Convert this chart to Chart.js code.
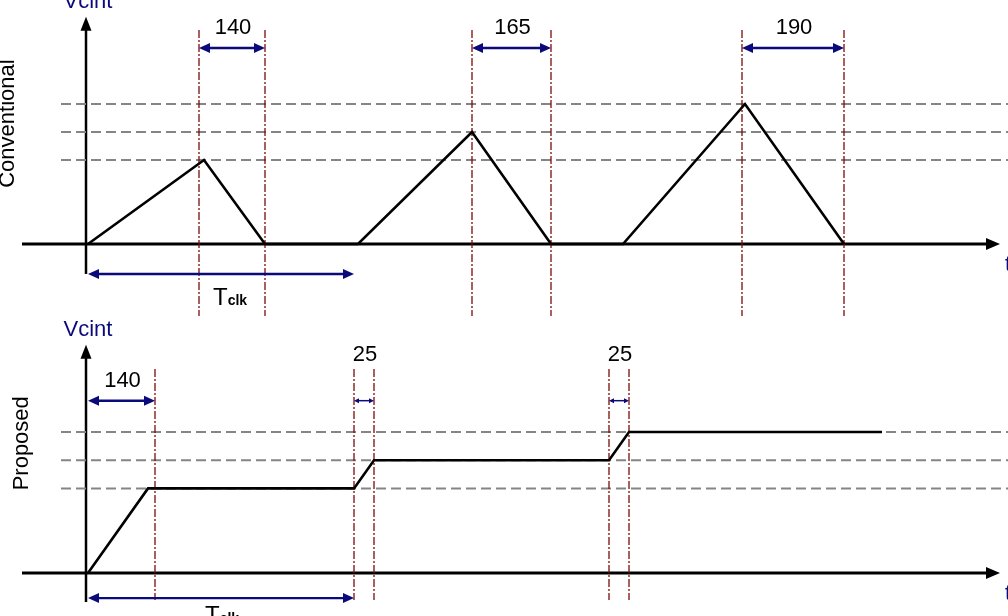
<!DOCTYPE html>
<html>
<head>
<meta charset="utf-8">
<script src="https://cdn.jsdelivr.net/npm/chart.js@4.4.0/dist/chart.umd.min.js"></script>
<style>
  html, body { margin: 0; padding: 0; background: #fff; overflow: hidden; }
  canvas { display: block; }
</style>
</head>
<body>
<canvas id="convChart" width="1008" height="316"></canvas>
<canvas id="propChart" width="1008" height="300"></canvas>
<script>
// time runs from the Vcint axis, Vcint is counted in level steps
const levels = [3, 4, 5];

const convTime  = [0, 116, 177, 270, 384, 463, 535, 657, 756];
const convVcint = [0, 3, 0, 0, 4, 0, 0, 5, 0];
const convGuides = [111, 177, 384, 463, 654, 756];
const convSpans = [[111, 177], [384, 463], [654, 756]];
const convSpanLabels = ['140', '165', '190'];

const propTime  = [0, 60, 266, 286, 521, 541, 794];
const propVcint = [0, 3, 3, 4, 4, 5, 5];
const propGuides = [67, 266, 286, 521, 541];
const propSpans = [[0, 67], [266, 286], [521, 541]];
const propSpanLabels = ['140', '25', '25'];

const clkSpan = [0, 266];

const NAVY = '#0a0a7a';
const GUIDE = '#7e0a0a';
const FONT = '"Liberation Sans", Arial, sans-serif';

function arrowHead(ctx, x, y, dir, len, half, color) {
  ctx.fillStyle = color;
  ctx.beginPath();
  if (dir === 'r') { ctx.moveTo(x, y); ctx.lineTo(x - len, y - half); ctx.lineTo(x - len, y + half); }
  else if (dir === 'l') { ctx.moveTo(x, y); ctx.lineTo(x + len, y - half); ctx.lineTo(x + len, y + half); }
  else { ctx.moveTo(x, y); ctx.lineTo(x - half, y + len); ctx.lineTo(x + half, y + len); }
  ctx.closePath();
  ctx.fill();
}

function spanArrow(ctx, x1, x2, y, color, small) {
  const len = small ? 5 : 11, half = small ? 2.5 : 5;
  ctx.strokeStyle = color;
  ctx.lineWidth = small ? 1.5 : 2.4;
  ctx.beginPath();
  ctx.moveTo(x1 + len - 1, y);
  ctx.lineTo(x2 - len + 1, y);
  ctx.stroke();
  arrowHead(ctx, x1, y, 'l', len, half, color);
  arrowHead(ctx, x2, y, 'r', len, half, color);
}

function diagram(cfg) {
  return {
    id: 'diagram',
    beforeDatasetsDraw(chart) {
      const { ctx, scales: { x, y } } = chart;
      const y0 = y.getPixelForValue(0);
      const xEnd = x.getPixelForValue(912);
      ctx.save();
      ctx.strokeStyle = '#000';
      ctx.lineWidth = 3;
      ctx.beginPath();
      ctx.moveTo(x.getPixelForValue(-66), y0);
      ctx.lineTo(xEnd - 10, y0);
      ctx.stroke();
      arrowHead(ctx, xEnd, y0, 'r', 14, 6, '#000');

      const xa = x.getPixelForValue(-2);
      const yTip = y.getPixelForValue(cfg.vTip);
      ctx.lineWidth = 2.5;
      ctx.beginPath();
      ctx.moveTo(xa, y.getPixelForValue(cfg.vFoot));
      ctx.lineTo(xa, yTip + 10);
      ctx.stroke();
      arrowHead(ctx, xa, yTip, 'u', 14, 5.5, '#000');
      ctx.restore();
    },
    afterDatasetsDraw(chart) {
      const { ctx, scales: { x, y } } = chart;
      const y0 = y.getPixelForValue(0);
      const yTip = y.getPixelForValue(cfg.vTip);
      ctx.save();

      // span arrows and their labels
      const ys = y.getPixelForValue(cfg.spanV);
      cfg.spans.forEach((s, i) => {
        const x1 = x.getPixelForValue(s[0]), x2 = x.getPixelForValue(s[1]);
        const small = x2 - x1 < 30;
        spanArrow(ctx, x1, x2, ys, NAVY, small);
        ctx.fillStyle = '#000';
        ctx.font = '22px ' + FONT;
        ctx.textAlign = 'center';
        ctx.textBaseline = 'middle';
        ctx.fillText(cfg.labels[i], (x1 + x2) / 2 + 1, ys - (small ? 46 : 20));
      });

      // clock period arrow
      const yc = y.getPixelForValue(cfg.clkV);
      const c1 = x.getPixelForValue(clkSpan[0]), c2 = x.getPixelForValue(clkSpan[1]);
      spanArrow(ctx, c1, c2, yc, NAVY, false);
      ctx.fillStyle = '#000';
      ctx.textAlign = 'left';
      ctx.textBaseline = 'alphabetic';
      const tx = (c1 + c2) / 2 + cfg.clkDx;
      ctx.font = '24px ' + FONT;
      ctx.fillText('T', tx, yc + cfg.clkDy);
      const tw = ctx.measureText('T').width;
      ctx.font = 'bold 14px ' + FONT;
      ctx.fillText('clk', tx + tw, yc + cfg.clkDy);

      // axis names
      ctx.fillStyle = NAVY;
      ctx.font = '22px ' + FONT;
      ctx.textAlign = 'center';
      ctx.fillText('Vcint', x.getPixelForValue(0), yTip - 9);
      ctx.textAlign = 'left';
      ctx.fillText('t', x.getPixelForValue(917), y0 + 27);

      ctx.fillStyle = '#000';
      ctx.translate(cfg.titleX, y.getPixelForValue(cfg.titleV));
      ctx.rotate(-Math.PI / 2);
      ctx.textAlign = 'center';
      ctx.fillText(cfg.title, 0, 0);
      ctx.restore();
    }
  };
}

function buildChart(id, t, v, guides, yMin, yMax, gTop, gBottom, cfg) {
  const datasets = [{
    data: t.map((tt, i) => ({ x: tt, y: v[i] })),
    borderColor: '#000',
    borderWidth: 2.6,
    order: 0
  }];
  guides.forEach(g => datasets.push({
    data: [{ x: g, y: gTop }, { x: g, y: gBottom }],
    borderColor: GUIDE,
    borderWidth: 1.3,
    borderDash: [8, 2, 2, 2],
    order: 1
  }));
  levels.forEach(l => datasets.push({
    data: [{ x: -27, y: l }, { x: 920, y: l }],
    borderColor: '#858585',
    borderWidth: 2,
    borderDash: [10, 5],
    order: 2
  }));

  return new Chart(document.getElementById(id), {
    type: 'line',
    data: { datasets },
    options: {
      responsive: false,
      animation: false,
      devicePixelRatio: 1,
      layout: { padding: 0 },
      elements: { point: { radius: 0 }, line: { tension: 0, fill: false } },
      scales: {
        x: { type: 'linear', min: -88, max: 920, display: false },
        y: { type: 'linear', min: yMin, max: yMax, display: false }
      },
      plugins: { legend: { display: false }, tooltip: { enabled: false } }
    },
    plugins: [diagram(cfg)]
  });
}

buildChart('convChart', convTime, convVcint, convGuides, -2.571, 8.714, 7.64, -2.6, {
  vTip: 8.12, vFoot: -1.07, spanV: 7.0, clkV: -1.07, clkDx: -8, clkDy: 31,
  spans: convSpans, labels: convSpanLabels,
  title: 'Conventional', titleX: 14, titleV: 4.3
});

buildChart('propChart', propTime, propVcint, propGuides, -1.525, 9.113, 7.23, -0.96, {
  vTip: 8.09, vFoot: -1.03, spanV: 6.11, clkV: -0.89, clkDx: -16, clkDy: 25,
  spans: propSpans, labels: propSpanLabels,
  title: 'Proposed', titleX: 28, titleV: 4.6
});
</script>
</body>
</html>
